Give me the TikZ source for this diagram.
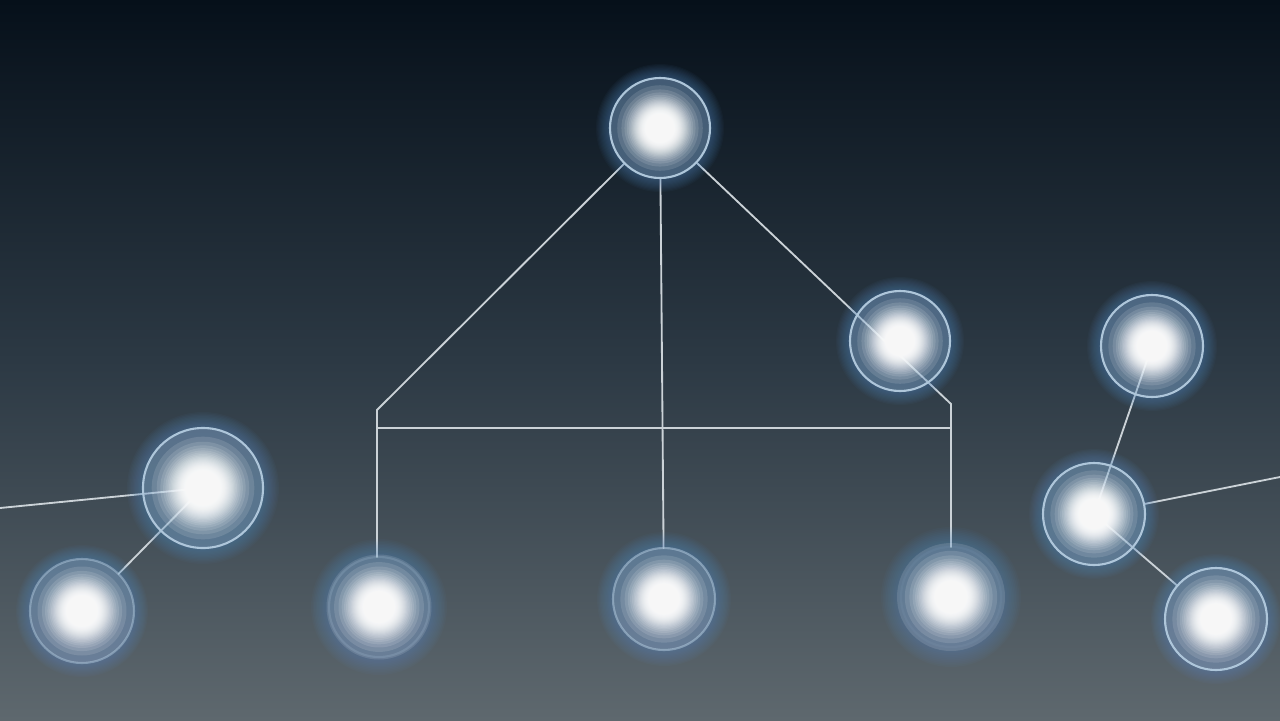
\documentclass[tikz,border=0pt]{standalone}
\usetikzlibrary{calc}
\definecolor{bgtop}{HTML}{06101A}
\definecolor{bgmid}{HTML}{2C3944}
\definecolor{bgbot}{HTML}{5E686E}
\definecolor{halo}{HTML}{5A90C8}
\definecolor{ringc}{HTML}{AEC6DA}
\definecolor{linec}{HTML}{CBD2D7}
\tikzset{
  orbnode/.style={circle, inner sep=0pt, outer sep=0pt, minimum size={#1*0.04cm}},
  link/.style={draw=linec, line width=1.05pt, line cap=round, line join=miter},
}
\newcommand\orbdraw[6]{% name, radius(px), halo width(px), halo opacity, ring opacity, glow scale
  \foreach \k in {1,...,12}{%
    \fill[halo, opacity=#4] (#1.center) circle[radius={(#2+#3*(13-\k)/12)*0.02cm}];}
  \foreach \k in {1,...,40}{%
    \fill[white, opacity=0.12] (#1.center) circle[radius={#6*#2*(1-ln(\k)/4.8)*0.02cm}];}
  \draw[ringc, line width=1.2pt, opacity=#5] (#1.center) circle[radius={#2*0.02cm}];
}
\begin{document}
\begin{tikzpicture}[x=0.02cm,y=-0.02cm]
\shade[top color=bgtop, bottom color=bgbot, middle color=bgmid] (0,0) rectangle (1280,720);
\useasboundingbox (0,0) rectangle (1280,720);

% nodes
\node[orbnode=50] (T)  at (660,128) {};
\node[orbnode=50] (R1) at (900,341) {};
\node[orbnode=51] (F1) at (1152,346) {};
\node[orbnode=51] (F2) at (1094,514) {};
\node[orbnode=51] (F3) at (1216,619) {};
\node[orbnode=60] (L1) at (203,488) {};
\node[orbnode=52] (L2) at (82,611) {};
\node[orbnode=50] (B1) at (379,607) {};
\node[orbnode=51] (B2) at (664,599) {};
\node[orbnode=50] (B3) at (951,597) {};

\coordinate (c1) at (377,410);
\coordinate (c2) at (951,404);
\coordinate (h1) at (377,428);
\coordinate (h2) at (951,428);
\coordinate (e1) at (0,508);
\coordinate (e2) at (1280,477);

% connectors
\draw[link] (T) -- (c1) -- (c1 |- B1.north);
\draw[link] (h1) -- (h2);
\draw[link] (T) -- (B2);
\draw[link] (T) -- (c2) -- (B3);
\draw[link] (F1.center) -- (F2.center);
\draw[link] (F2) -- (e2);
\draw[link] (F2.center) -- (F3);
\draw[link] (e1) -- (L1.center);
\draw[link] (L1.center) -- (L2);

% orbs
\orbdraw{T}{50}{14}{0.045}{1}{1}
\orbdraw{R1}{50}{14}{0.045}{1}{1}
\orbdraw{F1}{51}{14}{0.045}{1}{1}
\orbdraw{F2}{51}{14}{0.045}{1}{1}
\orbdraw{F3}{51}{14}{0.045}{1}{1}
\orbdraw{L1}{60}{16}{0.045}{1}{1}
\orbdraw{L2}{52}{14}{0.045}{0.5}{1}
\orbdraw{B1}{50}{18}{0.045}{0.2}{1.05}
\orbdraw{B2}{51}{16}{0.045}{0.55}{1}
\orbdraw{B3}{50}{20}{0.045}{0.06}{1.08}
\end{tikzpicture}
\end{document}
